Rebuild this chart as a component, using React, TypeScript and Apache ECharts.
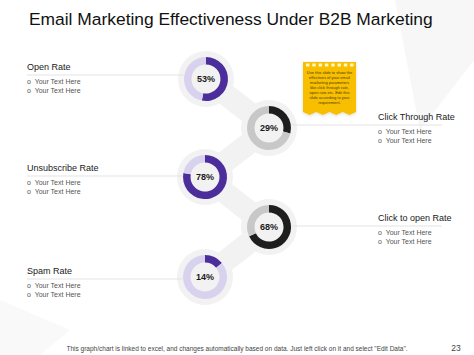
import React, { useEffect, useRef } from "react";
import * as echarts from "echarts";

const metricNames = ["Open Rate", "Click Through Rate", "Unsubscribe Rate", "Click to open Rate", "Spam Rate"];
const metricValues = [53, 29, 78, 68, 14];
const metricSide = ["left", "right", "left", "right", "left"];
const bulletTexts = ["Your Text Here", "Your Text Here"];
const titleText = "Email Marketing Effectiveness Under B2B Marketing";
const noteLines = [
  "Use this slide to show the",
  "effectives of your email",
  "marketing parameters",
  "like click through rate,",
  "open rate etc. Edit this",
  "slide according to your",
  "requirement.",
];
const footerText =
  'This graph/chart is linked to excel, and changes automatically based on data. Just left click on it and select "Edit Data".';
const pageNumber = "23";

// layout (positions, not data)
const centers: [number, number][] = [
  [206, 79],
  [269, 128],
  [205, 177],
  [269, 227],
  [205, 277],
];
const labelY = [67, 117, 168, 218, 271];

export default function App() {
  const ref = useRef<HTMLDivElement>(null);
  useEffect(() => {
    if (!ref.current) return;
    const chart = echarts.init(ref.current, undefined, { renderer: "svg" });
    const font = "'Liberation Sans', Arial, sans-serif";

    const graphics: any[] = [];
    // background faint diagonal bands
    graphics.push({
      type: "polygon",
      z: -10,
      shape: { points: [[395, 0], [474, 0], [474, 60], [420, 130]] },
      style: { fill: "#f7f7f7" },
    });
    graphics.push({
      type: "polygon",
      z: -10,
      shape: { points: [[0, 300], [70, 330], [40, 355], [0, 355]] },
      style: { fill: "#f9f9f9" },
    });
    // connector chain
    for (let i = 0; i < centers.length - 1; i++) {
      graphics.push({
        type: "line",
        z: -5,
        shape: { x1: centers[i][0], y1: centers[i][1], x2: centers[i + 1][0], y2: centers[i + 1][1] },
        style: { stroke: "#f2f2f2", lineWidth: 22 },
      });
    }
    centers.forEach((c) => {
      graphics.push({
        type: "circle",
        z: -5,
        shape: { cx: c[0], cy: c[1], r: 28 },
        style: { fill: "#f2f2f2" },
      });
    });

    // labels
    metricNames.forEach((name, i) => {
      const left = metricSide[i] === "left";
      const x = left ? 27 : 378;
      const y = labelY[i];
      const c = centers[i];
      graphics.push({
        type: "line",
        z: -1,
        shape: left
          ? { x1: 27, y1: y + 8, x2: c[0] - 22, y2: y + 8 }
          : { x1: c[0] + 22, y1: y + 8, x2: 442, y2: y + 8 },
        style: { stroke: "#e3e3e3", lineWidth: 1 },
      });
      graphics.push({
        type: "text",
        x,
        y,
        style: { text: name, font: `9px ${font}`, fill: "#1a1a1a", textVerticalAlign: "middle" },
      });
      bulletTexts.forEach((t, k) => {
        graphics.push({
          type: "text",
          x,
          y: y + 14 + k * 9,
          style: { text: "o  " + t, font: `7px ${font}`, fill: "#555555", textVerticalAlign: "middle" },
        });
      });
    });

    // title
    graphics.push({
      type: "text",
      x: 29,
      y: 19,
      style: { text: titleText, font: `17.4px ${font}`, fill: "#111111", textVerticalAlign: "middle" },
    });

    // sticky note
    const nx = 303, ny = 62, nw = 53, nh = 50;
    const wave: number[][] = [[nx, ny], [nx + nw, ny], [nx + nw, ny + nh]];
    for (let k = 0; k <= 8; k++) {
      const px = nx + nw - (nw * k) / 8;
      wave.push([px, ny + nh + (k % 2 === 0 ? 0 : 3)]);
    }
    graphics.push({
      type: "polygon",
      shape: { points: wave },
      style: { fill: "#f8bf00", shadowBlur: 3, shadowColor: "rgba(0,0,0,0.15)", shadowOffsetY: 1 },
    });
    for (let k = 0; k < 8; k++) {
      graphics.push({
        type: "rect",
        shape: { x: nx + 3 + k * 6.3, y: ny + 1.5, width: 3.5, height: 3 },
        style: { fill: "#fff4c8" },
      });
    }
    noteLines.forEach((l, k) => {
      graphics.push({
        type: "text",
        x: nx + nw / 2,
        y: ny + 10 + k * 5,
        style: { text: l, font: `4px ${font}`, fill: "#4a3a00", textAlign: "center", textVerticalAlign: "middle" },
      });
    });

    // footer
    graphics.push({
      type: "text",
      x: 237,
      y: 348,
      style: { text: footerText, font: `6.5px ${font}`, fill: "#444444", textAlign: "center", textVerticalAlign: "middle" },
    });
    graphics.push({
      type: "text",
      x: 456,
      y: 348,
      style: { text: pageNumber, font: `8.5px ${font}`, fill: "#444444", textAlign: "center", textVerticalAlign: "middle" },
    });

    const series = metricValues.map((v, i) => {
      const purple = metricSide[i] === "left";
      const main = purple ? "#4b2d9b" : "#1e1e1e";
      const bg = purple ? "#d8d2ee" : "#c8c8c8";
      return {
        type: "pie",
        center: centers[i],
        radius: [14.5, 22],
        startAngle: 90,
        clockwise: true,
        silent: true,
        z: 5,
        labelLine: { show: false },
        data: [
          {
            value: v,
            itemStyle: { color: main },
            label: {
              show: true,
              position: "center",
              formatter: `${v}%`,
              fontFamily: font,
              fontSize: 9,
              fontWeight: "bold",
              color: "#1a1a1a",
            },
          },
          { value: 100 - v, itemStyle: { color: bg }, label: { show: false } },
        ],
      };
    });

    chart.setOption({
      animation: false,
      backgroundColor: "#ffffff",
      graphic: graphics,
      series,
    });
    return () => chart.dispose();
  }, []);
  return <div ref={ref} style={{ position: "fixed", left: 0, top: 0, width: 474, height: 355 }} />;
}
